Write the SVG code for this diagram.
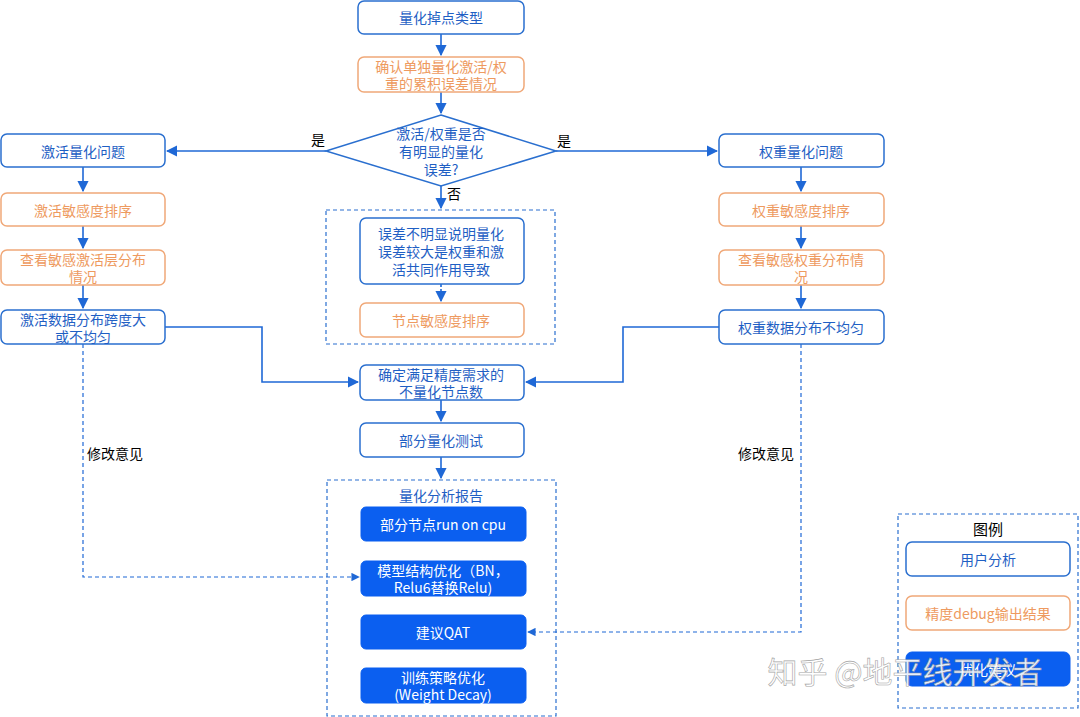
<svg xmlns="http://www.w3.org/2000/svg" width="1080" height="717" viewBox="0 0 1080 717">
<defs>
<marker id="ar" viewBox="0 0 10 10" refX="9" refY="5" markerWidth="7" markerHeight="7" orient="auto"><path d="M0,0L10,5L0,10z" fill="#1f68d6"/></marker>
<style>
text{font-family:"Microsoft YaHei","Noto Sans CJK SC",sans-serif;font-size:14px;text-anchor:middle;dominant-baseline:central}
.u rect{fill:#fff;stroke:#2a6fcf;stroke-width:1.5}
.u text{fill:#1f5fc4}
.o rect{fill:#fff;stroke:#f0a878;stroke-width:1.5}
.o text{fill:#ee9a60}
.f rect{fill:#0b5ff0;stroke:#0b5ff0}
.f text{fill:#fff}
.g{fill:none;stroke:#2a6fcf;stroke-width:1.2;stroke-dasharray:4,3}
.c path{fill:none;stroke:#1f68d6;stroke-width:1.6;marker-end:url(#ar)}
.c .d{stroke-width:1.2;stroke-dasharray:4,3}
.k{fill:#000}
</style>
</defs>
<rect width="1080" height="717" fill="#fff"/>
<rect class="g" x="326" y="210" width="229" height="134"/>
<rect class="g" x="327" y="480" width="229" height="236"/>
<rect class="g" x="898" y="514" width="180" height="194"/>
<g class="c">
<path d="M441,34V55"/><path d="M441,92V113"/>
<path d="M326,151H167"/><path d="M556,151H717"/>
<path d="M441,186V208"/>
<path d="M83,167V191"/><path d="M83,226V248"/><path d="M83,285V308"/>
<path d="M801,167V191"/><path d="M801,226V248"/><path d="M801,285V308"/>
<path d="M441,284V301" style="stroke-dasharray:3,2"/>
<path d="M165,327H262V382H358"/><path d="M719,327H623V382H526"/>
<path d="M441,400V421"/><path d="M441,457V478"/>
<path class="d" d="M83,344V577H359"/><path class="d" d="M801,344V632H528"/>
</g>
<g id="n1" class="u"><rect x="358" y="1" width="166" height="33" rx="6"/><text x="441" y="17">量化掉点类型</text></g>
<g id="n2" class="o"><rect x="358" y="57" width="166" height="35" rx="6"/><text x="441" y="66">确认单独量化激活/权</text><text x="441" y="83">重的累积误差情况</text></g>
<g id="n3" class="u"><path d="M441,115L556,151L441,186L326,151Z" fill="#fff" stroke="#2a6fcf" stroke-width="1.5"/><text x="441" y="133">激活/权重是否</text><text x="441" y="151">有明显的量化</text><text x="441" y="169">误差?</text></g>
<text class="k" x="318" y="139">是</text><text class="k" x="564" y="140">是</text><text class="k" x="454" y="193">否</text>
<g id="a1" class="u"><rect x="1" y="134" width="164" height="33" rx="6"/><text x="83" y="151">激活量化问题</text></g>
<g id="a2" class="o"><rect x="1" y="193" width="164" height="33" rx="6"/><text x="83" y="210">激活敏感度排序</text></g>
<g id="a3" class="o"><rect x="1" y="250" width="164" height="35" rx="6"/><text x="83" y="259">查看敏感激活层分布</text><text x="83" y="276">情况</text></g>
<g id="a4" class="u"><rect x="1" y="310" width="164" height="34" rx="6"/><text x="83" y="319">激活数据分布跨度大</text><text x="83" y="336">或不均匀</text></g>
<g id="w1" class="u"><rect x="719" y="134" width="165" height="33" rx="6"/><text x="801" y="151">权重量化问题</text></g>
<g id="w2" class="o"><rect x="719" y="193" width="165" height="33" rx="6"/><text x="801" y="210">权重敏感度排序</text></g>
<g id="w3" class="o"><rect x="719" y="250" width="165" height="35" rx="6"/><text x="801" y="259">查看敏感权重分布情</text><text x="801" y="276">况</text></g>
<g id="w4" class="u"><rect x="719" y="310" width="165" height="34" rx="6"/><text x="801" y="327">权重数据分布不均匀</text></g>
<g id="m1" class="u"><rect x="360" y="218" width="164" height="66" rx="6"/><text x="441" y="233">误差不明显说明量化</text><text x="441" y="251">误差较大是权重和激</text><text x="441" y="269">活共同作用导致</text></g>
<g id="m2" class="o"><rect x="360" y="303" width="164" height="34" rx="6"/><text x="441" y="320">节点敏感度排序</text></g>
<g id="m3" class="u"><rect x="360" y="365" width="164" height="35" rx="6"/><text x="441" y="374">确定满足精度需求的</text><text x="441" y="391">不量化节点数</text></g>
<g id="m4" class="u"><rect x="360" y="423" width="164" height="34" rx="6"/><text x="441" y="440">部分量化测试</text></g>
<text x="441" y="495" fill="#1f5fc4">量化分析报告</text>
<g id="r1" class="f"><rect x="361" y="507" width="165" height="34" rx="5"/><text x="443" y="524">部分节点run on cpu</text></g>
<g id="r2" class="f"><rect x="361" y="561" width="165" height="35" rx="5"/><text x="443" y="570">模型结构优化（BN，</text><text x="443" y="587">Relu6替换Relu)</text></g>
<g id="r3" class="f"><rect x="361" y="615" width="165" height="34" rx="5"/><text x="443" y="632">建议QAT</text></g>
<g id="r4" class="f"><rect x="361" y="668" width="165" height="35" rx="5"/><text x="443" y="677">训练策略优化</text><text x="443" y="694">(Weight Decay)</text></g>
<text class="k" x="115" y="453">修改意见</text><text class="k" x="766" y="453">修改意见</text>
<text class="k" x="988" y="528" style="font-size:15px">图例</text>
<g id="l1" class="u"><rect x="906" y="542" width="164" height="34" rx="6"/><text x="988" y="559">用户分析</text></g>
<g id="l2" class="o"><rect x="906" y="596" width="164" height="34" rx="6"/><text x="988" y="613">精度debug输出结果</text></g>
<g id="l3" class="f"><rect x="906" y="652" width="164" height="34" rx="6"/><text x="988" y="669">优化建议</text></g>
<text x="905" y="670" style="font-size:30px;fill:#fff;stroke:#999;stroke-width:0.6;opacity:0.9">知乎 @地平线开发者</text>
</svg>
